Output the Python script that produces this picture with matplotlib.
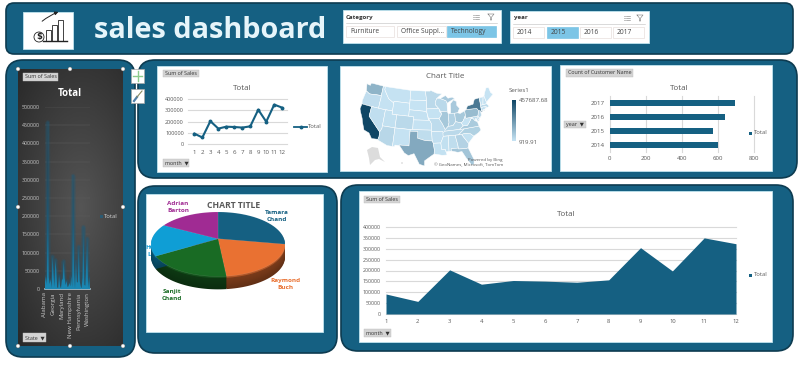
import numpy as np
import matplotlib
matplotlib.use("Agg")
import matplotlib.pyplot as plt
from matplotlib.colors import LinearSegmentedColormap, to_rgb
from matplotlib.patches import FancyBboxPatch, Rectangle, Circle, Polygon

W, H = 800, 370
TEAL = "#156082"
EDGE = "#0d3b50"
GRAY = "#595959"
FONT = ["Open Sans", "DejaVu Sans"]

months = list(range(1, 13))
monthly_sales = [92000, 58000, 203000, 137000, 154000, 151000, 146000, 157000, 305000, 198000, 350000, 323000]
years = ["2014", "2015", "2016", "2017"]
customer_counts = [600, 575, 638, 695]
categories = ["Furniture", "Office Suppl...", "Technology"]
customers = ["Tamara\nChand", "Raymond\nBuch", "Sanjit\nChand", "Hunter\nLopez", "Adrian\nBarton"]
customer_share = [25, 23, 21, 16, 15]
states = ["Alabama", "Arizona", "Arkansas", "California", "Colorado", "Connecticut", "Delaware",
          "District of Columbia", "Florida", "Georgia", "Idaho", "Illinois", "Indiana", "Iowa", "Kansas",
          "Kentucky", "Louisiana", "Maine", "Maryland", "Massachusetts", "Michigan", "Minnesota",
          "Mississippi", "Missouri", "Montana", "Nebraska", "Nevada", "New Hampshire", "New Jersey",
          "New Mexico", "New York", "North Carolina", "North Dakota", "Ohio", "Oklahoma", "Oregon",
          "Pennsylvania", "Rhode Island", "South Carolina", "South Dakota", "Tennessee", "Texas", "Utah",
          "Vermont", "Virginia", "Washington", "West Virginia", "Wisconsin", "Wyoming"]
state_sales = [19510, 35282, 11678, 457687, 32108, 13384, 27451, 2865, 89473, 49095, 4382, 80166, 53555,
               4580, 2914, 36591, 9217, 1270, 23705, 28634, 76269, 29863, 10771, 22205, 5589, 7464, 16729,
               7292, 35764, 4784, 310876, 55603, 920, 78258, 19683, 17431, 116511, 22627, 8481, 1315,
               30661, 170188, 11220, 8929, 70636, 138641, 1209, 32114, 1603]

# rough state outlines, lon/lat
outlines = {
    "Washington": [[(-124.7,48.4),(-123,48.2),(-122.8,49),(-117,49),(-117,46),(-119,45.9),(-121,45.7),(-122.3,45.6),(-124,46.2)]],
    "Oregon": [[(-124,46.2),(-122.3,45.6),(-121,45.7),(-119,45.9),(-117,46),(-116.9,45),(-117,44),(-117,42),(-124.2,42),(-124.5,43)]],
    "California": [[(-124.2,42),(-120,42),(-120,39),(-114.6,35),(-114.5,33.5),(-114.7,32.7),(-117.1,32.5),(-118.5,34),(-120.6,34.5),(-121.9,36.6),(-122.5,37.8),(-123.8,39.5),(-124.4,40.4)]],
    "Nevada": [[(-120,42),(-114,42),(-114,36.2),(-114.6,35),(-120,39)]],
    "Idaho": [[(-117,49),(-116,49),(-116,48),(-114.5,46.5),(-113.5,45.5),(-111,44.5),(-111,42),(-117,42),(-117,44),(-116.9,45),(-117,46)]],
    "Montana": [[(-116,49),(-104,49),(-104,45),(-111,45),(-111,44.5),(-113.5,45.5),(-114.5,46.5),(-116,48)]],
    "Wyoming": [[(-111,45),(-104,45),(-104,41),(-111,41)]],
    "Utah": [[(-114,42),(-111,42),(-111,41),(-109,41),(-109,37),(-114,37)]],
    "Arizona": [[(-114,37),(-109,37),(-109,31.3),(-111,31.3),(-114.8,32.5),(-114.5,33.5),(-114.6,35),(-114,36.2)]],
    "Colorado": [[(-109,41),(-102,41),(-102,37),(-109,37)]],
    "New Mexico": [[(-109,37),(-103,37),(-103,32),(-106.5,32),(-106.5,31.8),(-108.2,31.8),(-108.2,31.3),(-109,31.3)]],
    "North Dakota": [[(-104,49),(-97.2,49),(-96.6,46),(-104,46)]],
    "South Dakota": [[(-104,46),(-96.6,46),(-96.5,42.5),(-98,42.8),(-104,43)]],
    "Nebraska": [[(-104,43),(-98,42.8),(-96.5,42.5),(-95.8,40),(-102,40),(-102,41),(-104,41)]],
    "Kansas": [[(-102,40),(-95.3,40),(-94.6,39),(-94.6,37),(-102,37)]],
    "Oklahoma": [[(-103,37),(-94.6,37),(-94.4,33.7),(-97,33.8),(-100,34.5),(-100,36.5),(-103,36.5)]],
    "Texas": [[(-103,36.5),(-100,36.5),(-100,34.5),(-97,33.8),(-94.4,33.7),(-94,33),(-93.7,31),(-93.8,29.7),(-95,29),(-97.2,27.6),(-97.2,26),(-99,26.5),(-101,29.7),(-103,29),(-104.5,29.7),(-106.5,31.8),(-106.5,32),(-103,32)]],
    "Minnesota": [[(-97.2,49),(-95,49),(-95,49.3),(-92,48.3),(-89.6,48),(-92,46.7),(-92.8,45.5),(-92.7,44.7),(-91.3,43.5),(-96.5,43.5),(-96.6,46)]],
    "Iowa": [[(-96.5,43.5),(-91.3,43.5),(-91,42.5),(-90.2,41.8),(-91.4,40.4),(-95.8,40.6),(-96.5,42.5)]],
    "Missouri": [[(-95.8,40.6),(-91.4,40.4),(-90.2,38.8),(-89.2,37),(-89.5,36),(-90.4,36),(-90.2,36.5),(-94.6,36.5),(-94.6,39),(-95.3,40)]],
    "Arkansas": [[(-94.6,36.5),(-90.2,36.5),(-90.1,35),(-91.2,33),(-94,33),(-94.4,33.7)]],
    "Louisiana": [[(-94,33),(-91.2,33),(-91,31),(-89.7,31),(-89.5,30.2),(-89.2,29.2),(-91,29.2),(-93.8,29.7),(-93.7,31)]],
    "Wisconsin": [[(-92,46.7),(-90.5,46.6),(-88,45.8),(-87.6,45),(-87.8,42.5),(-90.6,42.5),(-91.3,43.5),(-92.7,44.7),(-92.8,45.5)]],
    "Illinois": [[(-90.6,42.5),(-87.8,42.5),(-87.5,41.7),(-87.5,39),(-88,37.9),(-89.2,37),(-90.2,38.8),(-91.4,40.4),(-90.2,41.8)]],
    "Michigan": [[(-86.5,41.8),(-84.8,41.7),(-83.5,41.7),(-82.5,43),(-83.5,44),(-83.4,45.2),(-84.7,45.8),(-86.2,44.7),(-86.3,43)],
                 [(-90.5,46.6),(-88,47.4),(-87,46.5),(-85,46.7),(-84,46),(-85,45.9),(-87.6,45),(-88,45.8)]],
    "Indiana": [[(-87.5,41.7),(-86.5,41.8),(-84.8,41.7),(-84.8,39.1),(-86,38),(-88,37.9),(-87.5,39)]],
    "Ohio": [[(-84.8,41.7),(-83.5,41.7),(-82.5,41.4),(-80.5,42),(-80.5,40.6),(-81.7,39),(-82.6,38.5),(-84.8,39.1)]],
    "Kentucky": [[(-89.5,36.5),(-83.7,36.6),(-82,37.5),(-82.6,38.5),(-84.8,39.1),(-86,38),(-88,37.9),(-89.2,37)]],
    "Tennessee": [[(-90.2,35),(-84.3,35),(-81.7,36.6),(-83.7,36.6),(-89.5,36.5),(-90.2,36)]],
    "Mississippi": [[(-91.2,33),(-90.1,35),(-88.2,35),(-88.4,30.3),(-89.5,30.2),(-89.7,31),(-91,31)]],
    "Alabama": [[(-88.2,35),(-85.6,35),(-85,32),(-85,31),(-87.6,31),(-87.5,30.3),(-88.4,30.3)]],
    "Georgia": [[(-85.6,35),(-83.1,35),(-81,32),(-81.4,30.7),(-82,30.5),(-84.9,30.7),(-85,32)]],
    "Florida": [[(-87.6,31),(-85,31),(-84.9,30.7),(-82,30.5),(-81.4,30.7),(-80,26.8),(-80.3,25.3),(-81.1,25.2),(-82.7,27.8),(-83.8,29.8),(-85.3,29.7),(-87.5,30.3)]],
    "South Carolina": [[(-83.1,35),(-82,35.2),(-81,35.1),(-79.7,34.8),(-78.6,33.9),(-81,32)]],
    "North Carolina": [[(-84.3,35),(-83.1,35),(-82,35.2),(-81,35.1),(-79.7,34.8),(-78.6,33.9),(-76.5,34.7),(-75.5,35.3),(-75.9,36.6),(-81.7,36.6)]],
    "Virginia": [[(-83.7,36.6),(-81.7,36.6),(-75.9,36.6),(-76.2,38),(-77,38.4),(-77.6,39.2),(-78.4,39.4),(-79.3,38.4),(-80.3,37.5),(-82,37.5)]],
    "West Virginia": [[(-82,37.5),(-80.3,37.5),(-79.3,38.4),(-78.4,39.4),(-77.8,39.6),(-79.5,39.7),(-80.5,39.7),(-80.5,40.6),(-81.7,39),(-82.6,38.5)]],
    "Maryland": [[(-79.5,39.7),(-75.8,39.7),(-75.1,38.4),(-76,38),(-76.5,39.2),(-77,38.4),(-77.6,39.2),(-78.4,39.4),(-77.8,39.6)]],
    "Delaware": [[(-75.8,39.7),(-75.4,39.8),(-75.1,38.5),(-75.7,38.5)]],
    "Pennsylvania": [[(-80.5,42),(-79.8,42.3),(-75.3,42),(-74.8,41.3),(-75.4,39.8),(-75.8,39.7),(-79.5,39.7),(-80.5,39.7)]],
    "New Jersey": [[(-74.8,41.3),(-74,41),(-74,39.7),(-74.9,38.9),(-75.5,39.6)]],
    "New York": [[(-79.8,42.3),(-79,43.3),(-76.5,43.5),(-75.5,44.9),(-73.3,45),(-73.5,42),(-73.6,41),(-72,41),(-74,40.6),(-74,41),(-74.8,41.3),(-75.3,42)]],
    "Connecticut": [[(-73.5,42),(-71.8,42),(-71.8,41.3),(-73.6,41)]],
    "Rhode Island": [[(-71.8,42),(-71.3,42),(-71.2,41.5),(-71.8,41.3)]],
    "Massachusetts": [[(-73.5,42.7),(-71.3,42.7),(-70.7,42.6),(-70,41.7),(-71.2,41.5),(-71.3,42),(-73.5,42)]],
    "Vermont": [[(-73.3,45),(-71.5,45),(-72.4,42.7),(-73.3,42.7)]],
    "New Hampshire": [[(-71.5,45),(-71,45.2),(-70.7,43.1),(-70.7,42.7),(-72.4,42.7)]],
    "Maine": [[(-71,45.2),(-70.3,46.2),(-69.2,47.4),(-68,47.3),(-67.8,45.7),(-67,44.9),(-69,44),(-70.7,43.1)]],
}


def albers(pts):
    lon, lat = np.radians(np.array(pts)).T
    p1, p2, lat0, lon0 = np.radians([29.5, 45.5, 37.5, -96])
    n = (np.sin(p1) + np.sin(p2)) / 2
    c = np.cos(p1) ** 2 + 2 * n * np.sin(p1)
    rho = np.sqrt(c - 2 * n * np.sin(lat)) / n
    rho0 = np.sqrt(c - 2 * n * np.sin(lat0)) / n
    t = n * (lon - lon0)
    return np.column_stack([rho * np.sin(t), rho0 - rho * np.cos(t)])


def px_axes(x0, y0, x1, y1):
    a = fig.add_axes([x0 / W, 1 - y1 / H, (x1 - x0) / W, (y1 - y0) / H])
    a.patch.set_alpha(0)
    return a


def round_box(a, x0, y0, x1, y1, r, fc, ec="none", lw=0, z=1):
    a.add_patch(FancyBboxPatch((x0 + r, y0 + r), x1 - x0 - 2 * r, y1 - y0 - 2 * r,
                               boxstyle=f"round,pad={r},rounding_size={r}",
                               fc=fc, ec=ec, lw=lw, zorder=z))


def card(x0, y0, x1, y1, fc="white"):
    bg.add_patch(Rectangle((x0, y0), x1 - x0, y1 - y0, fc=fc, ec="#bfe3ee", lw=0.6, zorder=2))


def button(x0, y0, x1, y1, label):
    top.add_patch(Rectangle((x0, y0), x1 - x0, y1 - y0, fc="#d4d4d4", ec="#bcbcbc", lw=0.3))
    top.text(x0 + 2, (y0 + y1) / 2, label, fontsize=3.9, color="#333333", va="center", family=FONT)


def style_axes(a, ticksize=4.2, color=GRAY):
    for s in a.spines.values():
        s.set_visible(False)
    a.tick_params(length=0, labelsize=ticksize, labelcolor=color, pad=2)
    a.set_axisbelow(True)
    for lab in a.get_xticklabels() + a.get_yticklabels():
        lab.set_family(FONT)


def filter_icons(xa, xb, y):
    for dy in (-2, 0, 2):
        top.plot([xa, xa + 3.5], [y + dy] * 2, color="#777777", lw=0.4)
        top.plot([xa - 2.5, xa - 1.5], [y + dy] * 2, color="#777777", lw=0.4)
    top.plot([xb - 3, xb + 3, xb + 0.6, xb + 0.6, xb - 0.6, xb - 0.6, xb - 3],
             [y - 3, y - 3, y, y + 3, y + 3, y, y - 3], color="#777777", lw=0.4)


def slicer_button(x0, y0, x1, y1, label, on=False):
    top.add_patch(Rectangle((x0, y0), x1 - x0, y1 - y0, fc="#7cc5e6" if on else "white",
                            ec="#7cc5e6" if on else "#e8dedc", lw=0.5))
    top.text(x0 + 4, (y0 + y1) / 2, label, fontsize=4.8, color="#444444", va="center", family=FONT)


fig = plt.figure(figsize=(W / 100, H / 100), dpi=100, facecolor="white")
bg = fig.add_axes([0, 0, 1, 1])
bg.set_xlim(0, W)
bg.set_ylim(H, 0)
bg.axis("off")

# panels
round_box(bg, 6, 3, 793, 54, 8, TEAL, EDGE, 1.2)
round_box(bg, 6, 60, 135, 357, 17, TEAL, EDGE, 1.2)
round_box(bg, 138, 60, 797, 178, 17, TEAL, EDGE, 1.2)
round_box(bg, 138, 186, 337, 353, 17, TEAL, EDGE, 1.2)
round_box(bg, 341, 185, 793, 351, 17, TEAL, EDGE, 1.2)
card(23, 12, 73, 49)
card(343, 10, 501, 43)
card(510, 11, 649, 43)
card(157, 66, 327, 172)
card(340, 66, 551, 171)
card(560, 65, 772, 171)
card(146, 194, 323, 332)
card(359, 191, 772, 342)

# dark card with radial shading
yy, xx = np.mgrid[0:1:120j, 0:1:60j]
shade = np.hypot((xx - 0.6) / 1.0, (yy - 0.5) / 0.8)
bg.imshow(shade, extent=(18, 123, 346, 69), cmap=LinearSegmentedColormap.from_list("d", ["#555555", "#2a2a2a"]),
          vmin=0, vmax=0.85, aspect="auto", zorder=2)
bg.set_xlim(0, W)
bg.set_ylim(H, 0)

# line chart
ax = px_axes(188, 99, 287, 144)
ax.plot(months, monthly_sales, color=TEAL, lw=1.5, marker="o", ms=1.8, zorder=3)
ax.set_xlim(0.2, 12.6)
ax.set_ylim(0, 400000)
ax.set_xticks(months)
ax.set_yticks(range(0, 400001, 100000))
ax.grid(axis="y", color="#d9d9d9", lw=0.8, clip_on=False)
style_axes(ax, 4.0)
ax.tick_params(axis="x", labelsize=4.4, pad=4)
ax.tick_params(axis="y", pad=3)

# area chart
ax = px_axes(386, 227, 736, 314)
ax.fill_between(months, monthly_sales, 0, color=TEAL, lw=0, zorder=3)
ax.set_xlim(1, 12)
ax.set_ylim(0, 400000)
ax.set_xticks(months)
ax.set_yticks(range(0, 400001, 50000))
ax.grid(axis="y", color="#d9d9d9", lw=0.8, clip_on=False)
style_axes(ax, 3.8)
ax.tick_params(axis="x", labelsize=4.2, pad=3.8)
ax.tick_params(axis="y", pad=3.6)

# bar chart
ax = px_axes(610, 96, 754, 152)
ax.barh(years, customer_counts, height=0.36, color=TEAL, zorder=3)
ax.set_xlim(0, 800)
ax.set_ylim(-0.5, 3.5)
ax.set_xticks(range(0, 801, 200))
ax.grid(axis="x", color="#d9d9d9", lw=0.8, clip_on=False)
style_axes(ax, 4.4)
ax.tick_params(axis="x", pad=3)
ax.tick_params(axis="y", pad=3.6)

# dark state chart
ax = px_axes(45, 107, 90, 289)
x_states = np.arange(len(states))
ax.plot(x_states, state_sales, color="#1d5a78", lw=3.2, alpha=0.25, zorder=2, solid_joinstyle="round")
ax.plot(x_states, state_sales, color="#1d5a78", lw=1.6, alpha=0.4, zorder=2, solid_joinstyle="round")
poly = ax.fill_between(x_states, state_sales, 0, color="none", lw=0, zorder=3)
grad = np.linspace(0, 1, 100)[:, None]
im = ax.imshow(grad, extent=(0, len(states) - 1, 0, 500000), aspect="auto", origin="lower", zorder=3,
               cmap=LinearSegmentedColormap.from_list("a", ["#1b88b4", "#1a5f80", "#22465a", "#33474f"]))
im.set_clip_path(poly.get_paths()[0], transform=ax.transData)
ax.set_xlim(0, len(states) - 1)
ax.set_ylim(0, 500000)
ax.set_yticks(range(0, 500001, 50000))
ax.set_xticks(x_states[::9])
ax.set_xticklabels(states[::9], rotation=90)
ax.grid(axis="y", color="#5d5d5d", lw=0.35)
style_axes(ax, 3.8, "#c8c8c8")
ax.tick_params(axis="x", labelsize=4.4, pad=2.5)
ax.tick_params(axis="y", pad=4)
ax.spines["bottom"].set_visible(True)
ax.spines["bottom"].set_color("#a9c4d2")
ax.spines["bottom"].set_linewidth(1.2)

# map
ax = px_axes(360, 83, 493, 166)
blues = LinearSegmentedColormap.from_list("m", ["#c6e3f3", "#0f4665"])
lookup = dict(zip(states, state_sales))
all_pts = []
for name, rings in outlines.items():
    c = blues((lookup[name] - min(state_sales)) / (max(state_sales) - min(state_sales)))
    for ring in rings:
        xy = albers(ring)
        all_pts.append(xy)
        ax.add_patch(Polygon(xy, closed=True, fc=c, ec="white", lw=0.35))
all_pts = np.vstack(all_pts)
ax.set_xlim(all_pts[:, 0].min(), all_pts[:, 0].max())
ax.set_ylim(all_pts[:, 1].min(), all_pts[:, 1].max())
ax.axis("off")
bg.add_patch(Polygon([(367, 150), (372, 147), (378, 148), (380, 157), (385, 162), (379, 159), (375, 160), (370, 165), (369, 158)],
                     closed=True, fc="#dcdcdc", ec="none", zorder=3))
bg.add_patch(Circle((402, 163), 0.9, fc="#dcdcdc", zorder=3))

# colour scale of the map
ax = px_axes(512, 100, 516, 141)
ax.imshow(np.linspace(1, 0, 100)[:, None], cmap=blues, aspect="auto", vmin=0, vmax=1)
ax.axis("off")

# pie chart
top = fig.add_axes([0, 0, 1, 1])
top.set_xlim(0, W)
top.set_ylim(H, 0)
top.axis("off")
top.patch.set_alpha(0)

bg.text(157, 251, customers[3], fontsize=4.6, color="#129bd6", ha="center", va="center",
        fontweight="bold", family=FONT, zorder=3, linespacing=1.5)
ax = px_axes(151, 212, 285, 290)
ax.set_xlim(-1, 1)
ax.set_ylim(-1.42, 1)
ax.axis("off")
pie_colors = ["#156082", "#e97132", "#196b24", "#0f9ed5", "#a02b93"]
apex_y = 0.17
edges = 90 - 360 * np.cumsum([0] + customer_share) / sum(customer_share)
for i, col in enumerate(pie_colors):
    t = np.radians(np.linspace(edges[i], edges[i + 1], 60))
    rim = np.column_stack([np.cos(t), np.sin(t)])
    base = np.array(to_rgb(col))
    for d in np.linspace(0.40, 0.02, 14):
        k = 0.42 + 0.12 * (0.4 - d) / 0.38
        c = base * (k if d > 0.05 else 0.75)
        ax.add_patch(Polygon(np.vstack([[0, apex_y - d], rim - [0, d]]), closed=True, fc=c, ec="none", zorder=2))
for i, col in enumerate(pie_colors):
    t = np.radians(np.linspace(edges[i], edges[i + 1], 60))
    rim = np.column_stack([np.cos(t), np.sin(t)])
    ax.add_patch(Polygon(np.vstack([[0, apex_y], rim]), closed=True, fc=col, ec="#ffffff30", lw=0.3, zorder=3))

label_pos = [(277, 216, "#156082"), (285, 284, "#e97132"), (172, 295, "#196b24"), None, (178, 207, "#a02b93")]
for name, pos in zip(customers, label_pos):
    if pos:
        top.text(pos[0], pos[1], name, fontsize=4.6, color=pos[2], ha="center", va="center",
                 fontweight="bold", family=FONT, linespacing=1.5)
top.text(234, 206, "CHART TITLE", fontsize=6.2, color=GRAY, ha="center", va="center", fontweight="bold", family=FONT)

# header
top.text(94, 31, "sales dashboard", fontsize=20.8, color="#e6f5fa", fontweight="bold", va="center", family=FONT)
top.plot([43, 67], [41, 41], color="#222222", lw=1)
for bx, by in zip([46, 52, 58], [30, 25, 20]):
    top.add_patch(Rectangle((bx, by), 4.5, 41 - by, fc="white", ec="#222222", lw=0.6))
top.add_patch(Circle((39, 37), 5, fc="white", ec="#222222", lw=0.6))
top.text(39, 37, "$", fontsize=6, ha="center", va="center", fontweight="bold", color="#222222")
top.annotate("", xy=(61, 11), xytext=(40, 23), arrowprops=dict(arrowstyle="-|>", color="#222222", lw=0.7, mutation_scale=5,
                                                                 connectionstyle="arc3,rad=-0.1"))

# slicers
top.text(346, 17, "Category", fontsize=4.4, fontweight="bold", color="#333333", va="center", family=FONT)
top.plot([346, 497], [23, 23], color="#bdbdbd", lw=0.4)
filter_icons(475, 491, 17)
for x0, x1, label in zip([346, 397, 447], [394, 446, 496], categories):
    slicer_button(x0, 26, x1, 37, label, label == "Technology")
top.text(514, 18, "year", fontsize=4.4, fontweight="bold", color="#333333", va="center", family=FONT)
top.plot([513, 645], [24, 24], color="#bdbdbd", lw=0.4)
filter_icons(626, 640, 18)
for x0, label in zip([513, 547, 580, 613], years):
    slicer_button(x0, 27, x0 + 31, 38, label, label == "2015")

# titles, field buttons, legends
for x, y, s in [(242, 88, "Total"), (679, 88, "Total"), (566, 214, "Total"), (445, 76, "Chart Title")]:
    top.text(x, y, s, fontsize=5.8, color=GRAY, ha="center", va="center", family=FONT)
top.text(70, 93, "Total", fontsize=7, color="white", ha="center", va="center", fontweight="bold", family=FONT)
button(163, 70, 199, 77, "Sum of Sales")
button(163, 159, 189, 167, "month  \u25bc")
button(566, 69, 633, 77, "Count of Customer Name")
button(564, 121, 586, 128, "year  \u25bc")
button(364, 196, 400, 203, "Sum of Sales")
button(364, 329, 391, 337, "month  \u25bc")
button(23, 73, 58, 81, "Sum of Sales")
button(23, 333, 46, 342, "State  \u25bc")

top.plot([294, 307], [127, 127], color=TEAL, lw=1.3)
top.plot([300.5], [127], color=TEAL, marker="o", ms=1.8)
top.text(308, 127, "Total", fontsize=4.2, color=GRAY, va="center", family=FONT)
for x, y in [(750, 133), (750, 275)]:
    top.add_patch(Rectangle((x - 1.5, y - 1.5), 3, 3, fc=TEAL, ec="none"))
    top.text(x + 4, y - (1 if y > 200 else 0), "Total", fontsize=4.2, color=GRAY, va="center", family=FONT)
top.add_patch(Rectangle((100, 215), 3, 3, fc="#2a5a73", ec="none"))
top.text(104, 216.5, "Total", fontsize=4.2, color="#d5d5d5", va="center", family=FONT)

top.text(509, 90, "Series1", fontsize=4.4, color=GRAY, va="center", family=FONT)
top.text(519, 100, "457687.68", fontsize=4.4, color=GRAY, va="center", family=FONT)
top.text(519, 142, "919.91", fontsize=4.4, color=GRAY, va="center", family=FONT)
top.text(503, 160, "Powered by Bing", fontsize=3.2, color=GRAY, ha="right", va="center", family=FONT)
top.text(503, 165, "\u00a9 GeoNames, Microsoft, TomTom", fontsize=3.2, color=GRAY, ha="right", va="center", family=FONT)

# selection handles and side buttons
for hx, hy in [(18, 69), (70, 69), (123, 69), (18, 207), (123, 207), (18, 346), (70, 346), (123, 346)]:
    top.add_patch(Circle((hx, hy), 2, fc="white", ec="#555555", lw=0.3, zorder=5))
top.add_patch(Rectangle((131, 69), 13, 14, fc="white", ec="#a8a8a8", lw=0.5))
top.plot([137.5, 137.5], [71, 81], color="#8ccb8c", lw=1)
top.plot([133, 142], [76, 76], color="#8ccb8c", lw=1)
top.add_patch(Rectangle((131, 89), 13, 14, fc="white", ec="#a8a8a8", lw=0.5))
top.plot([134, 137], [101, 97], color="#4f7fa8", lw=1.6)
top.plot([137, 142], [97, 91], color="#8a8a60", lw=0.8)

fig.savefig("out.png", dpi=100, facecolor="white")
